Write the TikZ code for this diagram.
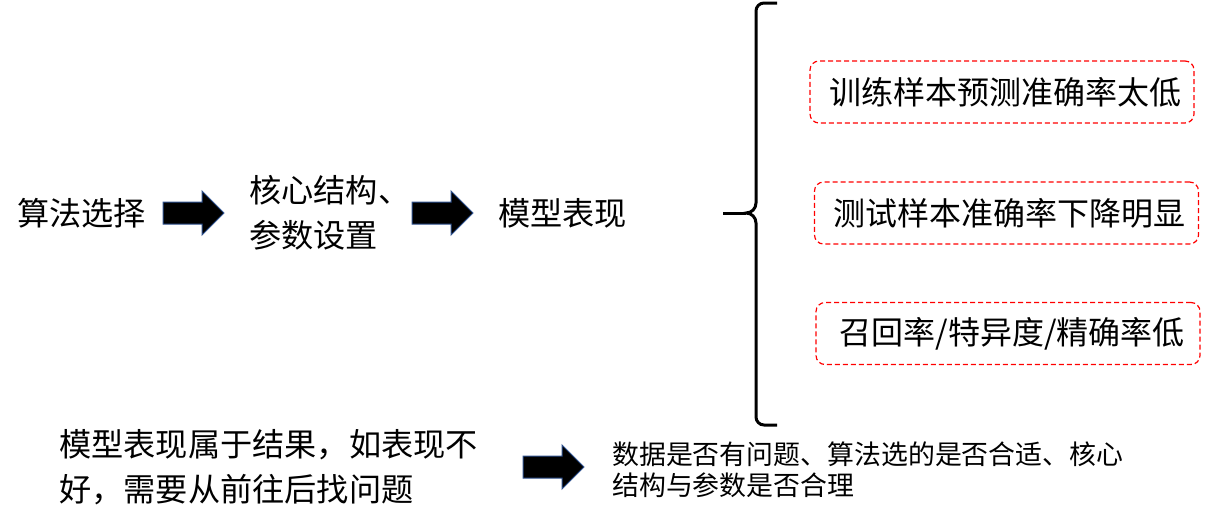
\documentclass[tikz,border=0pt]{standalone}
\usepackage{fontspec}
\usepackage{xcolor}
\usepackage{tikz}
\usetikzlibrary{arrows.meta,calc}
\newfontfamily\cjk{Noto Sans CJK SC}
\definecolor{edgeblue}{HTML}{2F528F}
\definecolor{dashred}{HTML}{FF0000}

\begin{document}
\begin{tikzpicture}[x=1pt,y=-1pt,
  bigtext/.style={font=\cjk\fontsize{32.2}{45}\selectfont,inner sep=0pt,align=left},
  smalltext/.style={font=\cjk\fontsize{26.9}{31}\selectfont,inner sep=0pt,align=left},
  dashbox/.style={draw=dashred,dashed,dash pattern=on 5pt off 3pt,line width=1.2pt,rounded corners=9pt,
    minimum width=384pt,minimum height=62pt,inner sep=0pt,font=\cjk\fontsize{32}{45}\selectfont},
  fatarrow/.style={fill=black,draw=edgeblue,line width=1pt,line join=miter},
  bracepath/.style={line width=3pt,line cap=butt}]
\useasboundingbox (0,0) rectangle (1206,525);
\node[bigtext,anchor=west] (algo) at (17,213){算法选择};
\node[bigtext,anchor=west] (core) at (249,213){核心结构、\\参数设置};
\node[bigtext,anchor=west] (perf) at (498,213){模型表现};
\node[dashbox] (train) at (1002,92){\hspace{6pt}训练样本预测准确率太低};
\node[dashbox] (test) at (1006.5,213){\hspace{6pt}测试样本准确率下降明显};
\node[dashbox] (recall) at (1008,333.5){\hspace{8pt}召回率/特异度/精确率低};
\node[bigtext,anchor=west] (result) at (59,467){模型表现属于结果，如表现不\\好，需要从前往后找问题};
\node[smalltext,anchor=west] (check) at (612,470){数据是否有问题、算法选的是否合适、核心\\结构与参数是否合理};
% block arrows
\foreach \ax/\ay in {163/213,412/213,523/467}
  \draw[fatarrow] (\ax,\ay) ++(0,-11) -- ++(39,0) -- ++(0,-11) -- ++(22,22) -- ++(-22,22) -- ++(0,-11) -- ++(-39,0) -- cycle;
% brace
\coordinate (braceTop) at (777,3);
\coordinate (braceMid) at (746,213);
\coordinate (braceTip) at (723,213);
\coordinate (braceBot) at (777,425);
\draw[bracepath] (braceTop) -- (764,3) to[out=180,in=90] (756,11) -- (756,203)
  to[out=-90,in=0] (braceMid) to[out=0,in=90] (756,223) -- (756,417)
  to[out=-90,in=180] (764,425) -- (braceBot);
\draw[bracepath] (braceMid) -- (braceTip);
\end{tikzpicture}
\end{document}
